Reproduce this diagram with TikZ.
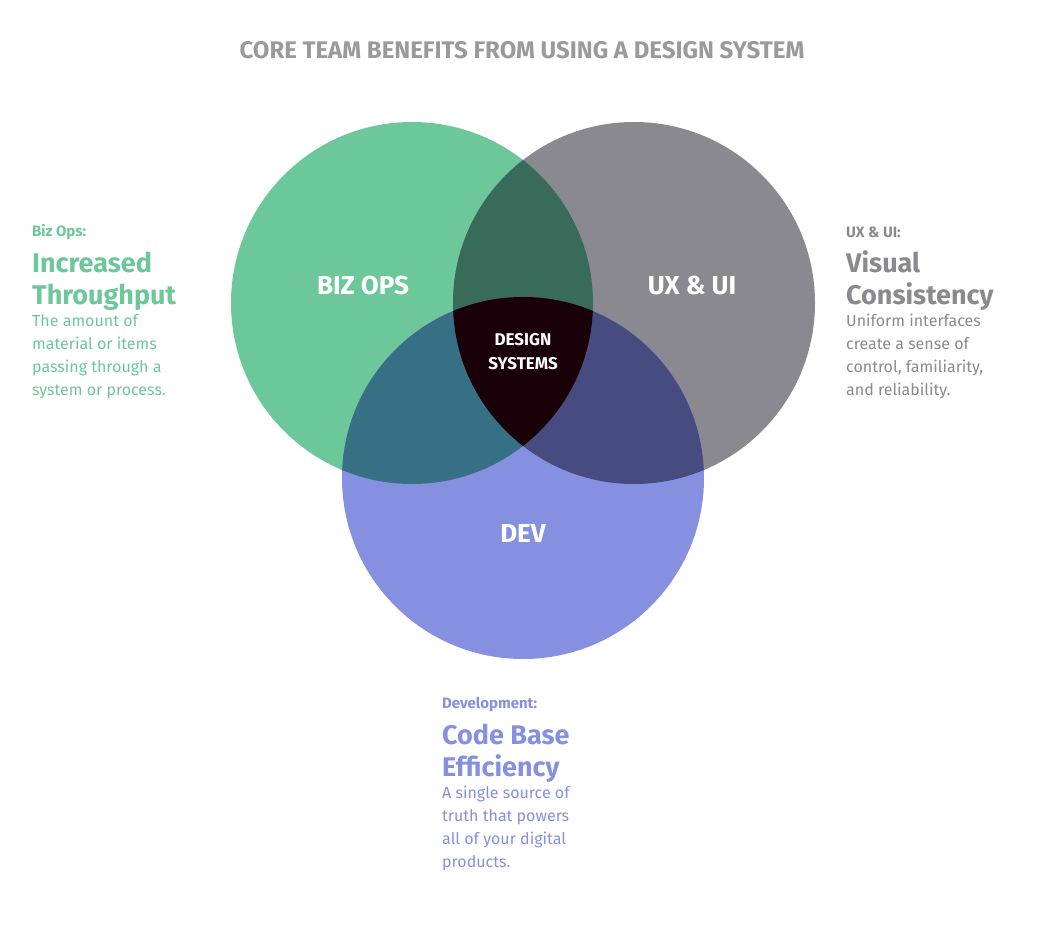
\documentclass[tikz,border=0pt]{standalone}
\usepackage{fontspec}
\setmainfont{Fira Sans}
\definecolor{cg}{HTML}{6CC79A}
\definecolor{cy}{HTML}{8A8990}
\definecolor{cp}{HTML}{8690E0}
\definecolor{gy}{HTML}{386B5A}
\definecolor{gp}{HTML}{376F85}
\definecolor{yp}{HTML}{474C80}
\definecolor{ctr}{HTML}{1A0008}
\definecolor{tt}{HTML}{9A9A9A}
\begin{document}
\begin{tikzpicture}[x=1pt,y=-1pt,
  lab/.style={anchor=west,inner sep=0pt},
  sm/.style={lab,font=\fontsize{15}{18}\selectfont\bfseries},
  big/.style={lab,font=\fontsize{27}{32}\selectfont\bfseries},
  body/.style={lab,font=\fontsize{16}{23}\selectfont,align=left,anchor=north west},
  cl/.style={text=white,font=\fontsize{26}{30}\selectfont\bfseries}]
\useasboundingbox (0,0) rectangle (1045,933);
\def\G{(412,303) circle (181)}
\def\Y{(634,303) circle (181)}
\def\P{(523,478) circle (181)}
\fill[cg] \G; \fill[cy] \Y; \fill[cp] \P;
\begin{scope}\clip \G; \fill[gy] \Y; \fill[gp] \P; \end{scope}
\begin{scope}\clip \Y; \fill[yp] \P; \end{scope}
\begin{scope}\clip \G; \clip \Y; \fill[ctr] \P; \end{scope}
\node[font=\fontsize{24}{28}\selectfont\bfseries,text=tt] (title) at (522,50) {CORE TEAM BENEFITS FROM USING A DESIGN SYSTEM};
\node[cl] (biz) at (363,285) {BIZ OPS};
\node[cl] (ux) at (692,285) {UX \& UI};
\node[cl] (dev) at (523,533) {DEV};
\node[text=white,font=\fontsize{17}{24}\selectfont\bfseries,align=center] (ds) at (523,352) {DESIGN\\SYSTEMS};
\node[sm,text=cg] (l1) at (32,232) {Biz Ops:};
\node[big,text=cg] (l2) at (32,262) {Increased};
\node[big,text=cg] (l3) at (32,297) {Throughput};
\node[body,text=cg] (l4) at (32,314) {The amount of\\material or items\\passing through a\\system or process.};
\node[sm,text=cy] (r1) at (846,232) {UX \& UI:};
\node[big,text=cy] (r2) at (846,262) {Visual};
\node[big,text=cy] (r3) at (846,297) {Consistency};
\node[body,text=cy] (r4) at (846,314) {Uniform interfaces\\create a sense of\\control, familiarity,\\and reliability.};
\node[sm,text=cp] (b1) at (442,704) {Development:};
\node[big,text=cp] (b2) at (442,734) {Code Base};
\node[big,text=cp] (b3) at (442,769) {Efficiency};
\node[body,text=cp] (b4) at (442,786) {A single source of\\truth that powers\\all of your digital\\products.};
\end{tikzpicture}
\end{document}
